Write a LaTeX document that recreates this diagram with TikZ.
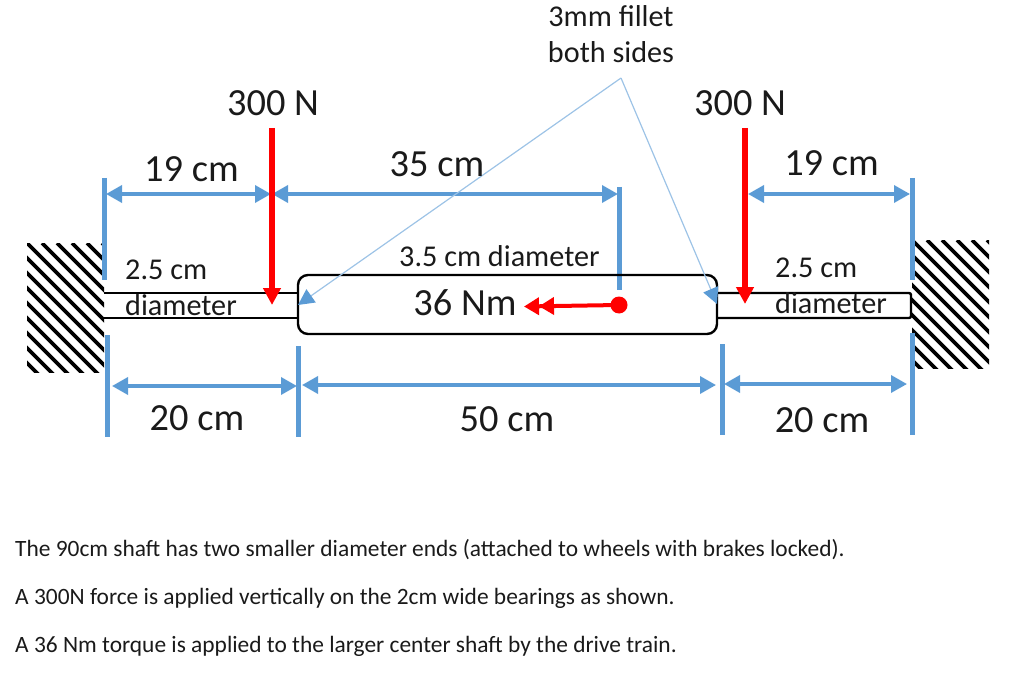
\documentclass[tikz,border=0pt]{standalone}
\usepackage{fontspec}
\setmainfont{Carlito}
\usetikzlibrary{arrows.meta}
\definecolor{dimblue}{HTML}{5B9BD5}
\definecolor{leaderblue}{HTML}{9DC3E6}
\definecolor{txt}{HTML}{1A1A1A}
\tikzset{
  x=1pt,y=-1pt,
  lbl/.style={inner sep=0pt,text=txt,font=\fontsize{38.4}{38.4}\selectfont,anchor=base},
  small/.style={inner sep=0pt,text=txt,font=\fontsize{30.2}{30.2}\selectfont,anchor=base west},
  body/.style={inner sep=0pt,text=txt,font=\fontsize{23.4}{23.4}\selectfont,anchor=base west},
  ext/.style={draw=dimblue,line width=5pt},
  dimarrow/.style={draw=dimblue,line width=3.5pt,{Triangle[length=16pt,width=17pt]}-{Triangle[length=16pt,width=17pt]}},
  leader/.style={draw=leaderblue,line width=1.2pt,-{Triangle[length=16pt,width=16pt,color=dimblue]}},
  force/.style={draw=red,line width=5.5pt,-{Triangle[length=17pt,width=17pt]}},
  shaft/.style={draw=black,line width=2.4pt},
  hatchline/.style={draw=black,line width=3.6pt},
}
\begin{document}
\begin{tikzpicture}
\useasboundingbox (0,0) rectangle (1024,676);
% hatched walls
\begin{scope}
\clip (27,243) rectangle (104,372);
\foreach \k in {-16,...,8} \draw[hatchline] (27+15*\k,243) -- ++(180,180);
\end{scope}
\begin{scope}
\clip (912,240) rectangle (989,368);
\foreach \k in {-16,...,8} \draw[hatchline] (912+15*\k,240) -- ++(180,180);
\end{scope}
% extension lines over wall edges
\coordinate (ltA) at (104,178); \coordinate (ltB) at (104,280);
\coordinate (lbA) at (107,335); \coordinate (lbB) at (107,437);
\coordinate (cbA) at (298,346); \coordinate (cbB) at (298,437);
\coordinate (ctA) at (619,187); \coordinate (ctB) at (619,290);
\coordinate (mbA) at (722,344); \coordinate (mbB) at (722,435);
\coordinate (rtA) at (912,178); \coordinate (rtB) at (912,280);
\coordinate (rbA) at (912,333); \coordinate (rbB) at (912,435);
\foreach \a/\b in {ltA/ltB,lbA/lbB,cbA/cbB,ctA/ctB,mbA/mbB,rtA/rtB,rbA/rbB} \draw[ext] (\a) -- (\b);
% shaft
\coordinate (sl1) at (104,293); \coordinate (sl2) at (298,293);
\coordinate (sl3) at (104,318); \coordinate (sl4) at (298,318);
\draw[shaft] (sl1) -- (sl2);
\draw[shaft] (sl3) -- (sl4);
\draw[shaft,rounded corners=2pt] (717,293) -- (911,293) -- (911,318) -- (717,318);
\draw[shaft,rounded corners=10pt] (298,275) rectangle (717,334);
% dimension arrows
\coordinate (d1a) at (106,194); \coordinate (d1b) at (271,194);
\coordinate (d2a) at (272,194); \coordinate (d2b) at (618,194);
\coordinate (d3a) at (748,194); \coordinate (d3b) at (910,194);
\coordinate (d4a) at (112,386); \coordinate (d4b) at (297,386);
\coordinate (d5a) at (302,385); \coordinate (d5b) at (716,385);
\coordinate (d6a) at (724,384); \coordinate (d6b) at (907,384);
\foreach \a/\b in {d1a/d1b,d2a/d2b,d3a/d3b,d4a/d4b,d5a/d5b,d6a/d6b} \draw[dimarrow] (\a) -- (\b);
% fillet leaders
\coordinate (apex) at (621,78);
\coordinate (fl) at (298,305); \coordinate (fr) at (717,304);
\draw[leader] (apex) -- (fl);
\draw[leader] (apex) -- (fr);
% forces
\coordinate (f1a) at (272,128); \coordinate (f1b) at (272,305);
\coordinate (f2a) at (745,128); \coordinate (f2b) at (745,304);
\draw[force] (f1a) -- (f1b);
\draw[force] (f2a) -- (f2b);
% torque
\fill[red] (619,305) circle (8.5pt);
\coordinate (t1) at (619,305); \coordinate (t2) at (524,306.5);
\draw[draw=red,line width=4pt,-{Triangle[length=15pt,width=17pt]Triangle[length=15pt,width=17pt]}] (t1) -- (t2);
% labels
\node[lbl] (n300l) at (273,116) {300 N};
\node[lbl] (n300r) at (740,116) {300 N};
\node[lbl] (n19l) at (191.5,182) {19 cm};
\node[lbl] (n35) at (437,177) {35 cm};
\node[lbl] (n19r) at (831.5,176) {19 cm};
\node[lbl] (n20l) at (197,430) {20 cm};
\node[lbl] (n50) at (507,431) {50 cm};
\node[lbl] (n20r) at (822,432) {20 cm};
\node[lbl] (n36) at (465,315) {36 Nm};
\node[small] (d25l) at (125,279) {2.5 cm};
\node[small] (dial) at (125,315) {diameter};
\node[small] (d25r) at (775,277) {2.5 cm};
\node[small] (diar) at (775,313) {diameter};
\node[small] (d35) at (399,266) {3.5 cm diameter};
\node[small,anchor=base] (fil1) at (611,27) {3mm fillet};
\node[small,anchor=base] (fil2) at (611,63) {both sides};
\node[body] (b1) at (15,556) {The 90cm shaft has two smaller diameter ends (attached to wheels with brakes locked).};
\node[body] (b2) at (15,604) {A 300N force is applied vertically on the 2cm wide bearings as shown.};
\node[body] (b3) at (15,652) {A 36 Nm torque is applied to the larger center shaft by the drive train.};
\end{tikzpicture}
\end{document}
